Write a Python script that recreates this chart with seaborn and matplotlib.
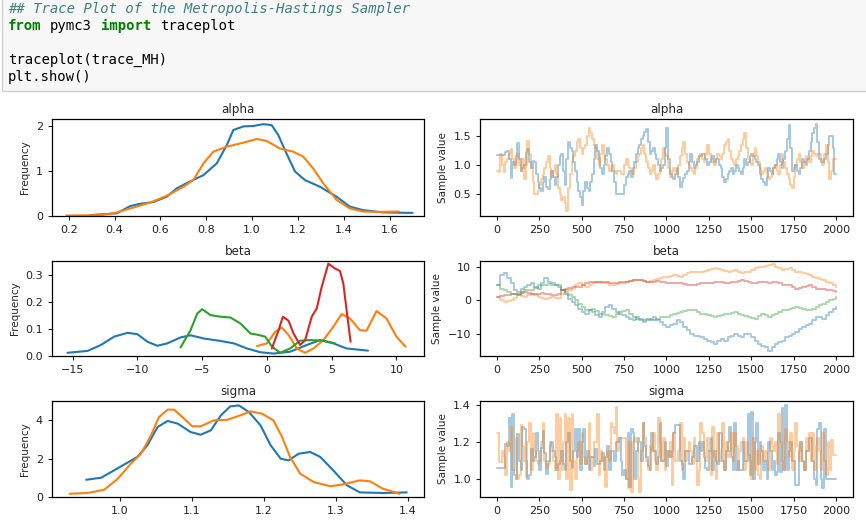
import numpy as np
import pandas as pd
import matplotlib
matplotlib.use("Agg")
import matplotlib.pyplot as plt
from matplotlib.patches import Rectangle
import seaborn as sns

# ---------------- data ----------------
# KDE curves (x, density)
alpha_kde_x_0 = [0.294, 0.41, 0.468, 0.51, 0.57, 0.628, 0.67, 0.715, 0.788, 0.846, 0.89, 0.918, 0.962, 1.005, 1.049, 1.085, 1.114, 1.15, 1.187, 1.23, 1.296, 1.368, 1.426, 1.484, 1.571, 1.673, 1.70]
alpha_kde_y_0 = [0.02, 0.06, 0.22, 0.27, 0.31, 0.43, 0.61, 0.73, 0.91, 1.17, 1.58, 1.91, 1.99, 2.0, 2.04, 2.02, 1.8, 1.39, 0.99, 0.8, 0.65, 0.43, 0.21, 0.13, 0.08, 0.07, 0.07]
alpha_kde_x_1 = [0.19, 0.338, 0.396, 0.483, 0.556, 0.628, 0.70, 0.744, 0.788, 0.831, 0.889, 0.947, 1.02, 1.063, 1.121, 1.179, 1.223, 1.266, 1.31, 1.368, 1.426, 1.484, 1.55, 1.64]
alpha_kde_y_1 = [0.01, 0.02, 0.06, 0.19, 0.30, 0.45, 0.65, 0.80, 1.17, 1.43, 1.54, 1.61, 1.71, 1.67, 1.50, 1.43, 1.32, 1.06, 0.73, 0.36, 0.17, 0.10, 0.09, 0.10]

beta_kde_x_0 = [-15.4, -13.85, -12.82, -11.8, -10.77, -10.0, -9.23, -8.46, -7.69, -6.67, -5.9, -4.87, -3.59, -2.56, -1.54, -0.51, 0.51, 1.79, 3.08, 4.1, 5.13, 6.15, 7.8]
beta_kde_y_0 = [0.012, 0.019, 0.041, 0.072, 0.086, 0.081, 0.053, 0.038, 0.047, 0.069, 0.077, 0.065, 0.056, 0.047, 0.028, 0.014, 0.009, 0.016, 0.041, 0.059, 0.047, 0.028, 0.02]
beta_kde_x_1 = [-0.77, 0.0, 0.64, 1.15, 1.67, 2.31, 2.95, 3.59, 4.36, 5.13, 5.77, 6.41, 7.18, 7.69, 8.46, 9.23, 10.0, 10.7]
beta_kde_y_1 = [0.037, 0.047, 0.09, 0.106, 0.078, 0.028, 0.012, 0.028, 0.059, 0.109, 0.156, 0.140, 0.096, 0.094, 0.167, 0.140, 0.072, 0.035]
beta_kde_x_2 = [-6.67, -5.9, -5.38, -5.0, -4.36, -3.59, -2.82, -2.05, -1.28, -0.64, -0.13, 0.38, 1.03, 1.79, 2.56, 3.33, 4.36, 5.26]
beta_kde_y_2 = [0.032, 0.096, 0.158, 0.174, 0.152, 0.146, 0.143, 0.121, 0.084, 0.078, 0.072, 0.035, 0.012, 0.028, 0.057, 0.059, 0.057, 0.047]
beta_kde_x_3 = [0.38, 0.9, 1.23, 1.67, 2.05, 2.56, 2.95, 3.46, 3.85, 4.23, 4.74, 5.26, 5.64, 5.9, 6.28, 6.46]
beta_kde_y_3 = [0.028, 0.096, 0.146, 0.131, 0.084, 0.041, 0.059, 0.146, 0.177, 0.257, 0.343, 0.325, 0.316, 0.269, 0.121, 0.053]

sigma_kde_x_0 = [0.953, 0.974, 1.0, 1.024, 1.038, 1.052, 1.066, 1.08, 1.098, 1.112, 1.126, 1.14, 1.153, 1.165, 1.179, 1.195, 1.209, 1.223, 1.234, 1.248, 1.264, 1.278, 1.296, 1.315, 1.333, 1.365, 1.398]
sigma_kde_y_0 = [0.90, 1.01, 1.57, 2.09, 2.70, 3.65, 3.97, 3.83, 3.39, 3.25, 3.48, 4.26, 4.73, 4.78, 4.43, 3.74, 2.70, 2.0, 1.91, 2.26, 2.35, 2.09, 1.39, 0.61, 0.24, 0.21, 0.24]
sigma_kde_x_1 = [0.93, 0.955, 0.978, 0.997, 1.015, 1.029, 1.043, 1.054, 1.066, 1.075, 1.089, 1.10, 1.112, 1.13, 1.149, 1.167, 1.181, 1.197, 1.213, 1.225, 1.236, 1.25, 1.269, 1.292, 1.31, 1.333, 1.347, 1.365, 1.388]
sigma_kde_y_1 = [0.17, 0.21, 0.38, 0.96, 1.74, 2.26, 3.22, 4.17, 4.56, 4.56, 4.09, 3.69, 3.69, 4.0, 4.03, 4.26, 4.47, 4.35, 4.0, 3.13, 2.09, 1.22, 0.78, 0.56, 0.66, 0.87, 0.82, 0.43, 0.17]

# traces: alpha & sigma read every 10 draws, beta every 20 draws
alpha_trace_0 = [1.17, 1.17, 1.17, 1.17, 1.17, 1.22, 1.25, 1.1, 0.78, 1.05, 1.0, 1.15, 1.38, 1.1, 0.9, 0.95, 1.0, 1.22, 1.28, 1.05,
                 0.95, 1.07, 1.05, 0.85, 0.7, 0.6, 0.55, 0.7, 0.8, 0.62, 0.58, 0.75, 0.9, 0.8, 0.65, 0.8, 1.0, 1.15, 1.2, 0.9,
                 0.65, 1.1, 1.4, 1.3, 1.25, 1.05, 0.9, 0.7, 0.55, 0.45, 0.3, 0.55, 0.7, 0.6, 0.55, 0.7, 0.85, 1.1, 1.35, 1.25,
                 1.1, 0.95, 0.85, 1.0, 1.15, 1.3, 1.2, 1.05, 0.9, 0.7, 0.5, 0.5, 0.5, 0.5, 0.5, 0.65, 0.8, 0.85, 0.9, 0.8,
                 0.95, 1.05, 1.2, 1.3, 1.35, 1.45, 1.5, 1.58, 1.62, 1.4, 1.2, 1.25, 1.3, 1.2, 1.1, 1.0, 0.9, 0.95, 1.0, 1.3,
                 1.65, 1.1, 0.85, 0.8, 0.75, 0.85, 0.95, 0.8, 0.62, 0.7, 0.78, 0.85, 0.9, 1.05, 1.2, 1.05, 0.95, 1.0, 1.05, 1.15,
                 1.15, 1.2, 1.2, 1.1, 1.0, 1.05, 1.1, 1.15, 1.05, 1.1, 1.1, 1.0, 0.95, 0.8, 0.7, 0.75, 0.85, 0.9, 0.95, 0.85,
                 0.9, 1.0, 0.95, 0.9, 0.85, 0.95, 1.1, 1.0, 1.05, 1.15, 1.2, 1.15, 1.1, 1.05, 1.0, 0.85, 0.75, 0.7, 0.65, 0.8,
                 0.95, 0.9, 0.85, 0.95, 1.0, 1.1, 1.2, 1.05, 0.95, 1.1, 1.25, 1.45, 1.7, 1.3, 0.9, 0.95, 1.0, 0.9, 0.85, 0.95,
                 1.1, 1.05, 1.0, 1.1, 1.25, 1.4, 1.55, 1.65, 1.72, 1.4, 1.1, 1.05, 1.05, 1.1, 1.2, 1.35, 1.5, 1.5, 1.3, 0.85,
                 0.85]
alpha_trace_1 = [0.9, 0.88, 1.2, 1.0, 0.88, 1.05, 1.1, 1.2, 1.28, 1.1, 0.95, 1.05, 1.2, 1.0, 0.9, 1.1, 0.75, 1.0, 1.42, 1.2,
                 0.95, 0.7, 0.5, 0.5, 0.55, 0.65, 0.75, 0.85, 0.95, 1.05, 1.15, 0.95, 0.8, 0.9, 1.0, 0.85, 0.6, 0.5, 0.4, 0.45,
                 0.35, 0.2, 0.6, 0.85, 1.05, 1.15, 1.25, 1.4, 1.45, 1.3, 1.2, 1.3, 1.35, 1.5, 1.65, 1.55, 1.45, 1.35, 1.3, 1.1,
                 1.0, 1.2, 1.35, 1.2, 1.1, 1.0, 0.9, 0.95, 1.0, 0.9, 0.85, 0.9, 0.9, 0.85, 0.85, 1.0, 1.1, 1.0, 0.95, 0.9,
                 0.85, 0.95, 1.05, 1.15, 1.2, 1.3, 1.35, 1.2, 1.05, 0.95, 0.85, 0.9, 1.0, 0.85, 0.75, 0.85, 0.9, 1.1, 1.3, 1.2,
                 1.15, 0.95, 0.8, 0.9, 0.95, 0.9, 0.85, 1.0, 1.15, 1.3, 1.4, 1.2, 1.05, 1.0, 0.95, 0.9, 0.85, 0.95, 1.1, 1.15,
                 1.2, 1.1, 1.05, 1.2, 1.35, 1.2, 1.1, 1.05, 1.0, 1.1, 1.2, 1.15, 1.1, 1.2, 1.35, 1.4, 1.45, 1.25, 1.1, 1.05,
                 1.0, 1.1, 1.15, 1.25, 1.35, 1.45, 1.55, 1.3, 1.1, 1.05, 1.0, 1.15, 1.3, 1.15, 1.05, 0.95, 0.85, 0.9, 0.95, 0.85,
                 0.75, 0.8, 0.85, 0.95, 1.0, 0.9, 0.85, 1.0, 1.2, 1.05, 0.95, 0.85, 0.75, 0.65, 0.6, 0.8, 1.0, 1.1, 1.2, 1.05,
                 0.95, 1.05, 1.15, 1.1, 1.05, 1.15, 1.25, 1.2, 1.15, 1.2, 1.2, 1.1, 1.0, 1.2, 1.35, 1.05, 0.75, 0.9, 1.1, 1.1,
                 1.1]

beta_trace_0 = [4.5, 7.5, 8.0, 6.5, 5.0, 3.0, 2.5, 3.5, 4.0, 4.5, 5.0, 4.0, 3.5, 5.0, 6.5, 5.5, 5.0, 4.5, 4.0, 3.0,
                2.0, 0.5, -0.5, -1.5, -2.5, -3.5, -4.0, -3.0, -3.5, -4.5, -5.0, -3.5, -2.0, -1.5, -2.5, -3.5, -4.0, -4.5, -5.0, -5.5,
                -6.0, -5.0, -5.5, -6.5, -6.0, -5.5, -5.0, -6.0, -6.5, -7.5, -8.0, -7.5, -7.0, -6.0, -6.5, -8.0, -9.0, -10.0, -10.5, -10.5,
                -11.0, -11.5, -12.0, -12.5, -13.0, -12.0, -11.5, -12.0, -11.0, -10.5, -10.0, -10.5, -11.0, -10.0, -10.0, -11.0, -12.0, -13.0, -13.5, -14.0,
                -15.0, -14.0, -13.0, -12.5, -12.0, -11.0, -10.5, -10.0, -9.5, -8.5, -8.0, -7.5, -7.0, -6.0, -5.0, -5.0, -5.5, -4.5, -3.5, -2.5,
                -2.0]
beta_trace_1 = [1.0, 0.0, -0.5, -0.3, 0.0, 0.8, 1.5, 1.2, 1.0, 1.5, 2.0, 1.5, 1.0, 0.8, 0.5, 0.8, 1.0, 0.8, 0.8, 2.0,
                3.0, 3.2, 3.5, 4.5, 5.0, 4.5, 4.0, 4.5, 5.0, 5.5, 5.5, 5.0, 5.0, 4.5, 4.5, 4.8, 5.0, 5.2, 5.5, 5.8,
                6.0, 6.0, 6.0, 5.8, 5.5, 5.8, 6.0, 6.3, 6.5, 6.8, 7.0, 7.3, 7.5, 7.2, 7.0, 7.5, 8.0, 8.3, 8.5, 8.3,
                8.5, 8.8, 9.0, 9.3, 9.5, 9.2, 9.0, 8.7, 8.5, 8.8, 9.0, 8.5, 8.0, 8.3, 8.5, 9.0, 9.5, 9.8, 10.0, 10.3,
                10.5, 10.8, 10.0, 9.5, 9.0, 9.3, 9.5, 9.0, 8.5, 8.3, 8.0, 7.8, 7.5, 7.0, 6.5, 6.3, 6.0, 5.5, 5.0, 4.5,
                4.0]
beta_trace_2 = [4.5, 3.5, 3.0, 2.5, 2.0, 1.8, 1.5, 2.5, 3.0, 3.2, 3.0, 3.8, 4.5, 4.5, 4.5, 4.8, 4.5, 4.5, 4.5, 3.0,
                2.5, 1.5, 1.0, 0.0, -1.0, -2.0, -3.0, -2.8, -2.5, -3.2, -4.0, -4.2, -4.5, -4.8, -5.0, -4.2, -3.5, -3.2, -3.0, -4.0,
                -5.0, -5.5, -6.0, -5.8, -5.5, -5.8, -6.0, -5.5, -5.0, -5.0, -5.0, -4.5, -4.0, -3.8, -3.5, -3.2, -3.0, -3.0, -3.0, -3.5,
                -4.0, -4.2, -4.5, -4.8, -5.0, -4.8, -4.5, -4.2, -4.0, -3.8, -3.5, -4.0, -4.5, -4.8, -5.0, -5.2, -5.5, -4.8, -4.0, -4.5,
                -5.0, -4.5, -4.0, -3.5, -3.0, -2.8, -2.5, -2.2, -2.0, -2.2, -2.5, -2.8, -3.0, -2.5, -2.0, -1.5, -1.0, -0.5, 0.0, 0.5,
                1.0]
beta_trace_3 = [1.0, 1.2, 1.5, 1.7, 1.8, 2.0, 2.0, 2.2, 2.5, 2.3, 2.0, 2.0, 2.0, 2.2, 2.0, 1.8, 1.5, 1.7, 2.0, 3.0,
                3.5, 3.8, 4.0, 4.0, 4.0, 4.5, 5.0, 5.3, 5.5, 5.5, 5.5, 5.3, 5.5, 5.2, 5.0, 5.2, 5.5, 5.3, 5.5, 5.8,
                6.0, 6.0, 6.0, 5.8, 5.5, 5.5, 5.5, 5.7, 5.5, 5.3, 5.0, 5.0, 5.0, 5.2, 5.0, 4.8, 4.5, 4.5, 4.5, 4.8,
                5.0, 5.0, 5.0, 5.2, 5.5, 5.5, 5.5, 5.2, 5.0, 5.3, 5.5, 5.8, 6.0, 5.8, 5.5, 5.2, 5.0, 5.3, 5.5, 5.3,
                5.0, 5.3, 5.5, 5.0, 4.5, 4.5, 4.5, 4.0, 3.5, 3.8, 4.0, 4.3, 4.5, 4.0, 3.5, 3.5, 3.5, 3.2, 3.0, 2.8,
                2.5]

sigma_trace_0 = [1.06, 1.06, 1.06, 1.06, 1.06, 1.19, 1.18, 1.33, 0.96, 1.35, 1.02, 1.0, 1.24, 1.1, 1.05, 1.28, 1.27, 1.1, 1.0, 1.02,
                 1.16, 1.1, 1.12, 1.25, 1.15, 1.05, 1.17, 1.26, 1.14, 1.03, 1.1, 1.18, 1.2, 1.15, 1.12, 1.05, 1.08, 1.1, 1.15, 1.08,
                 1.05, 1.2, 1.25, 1.1, 1.06, 1.15, 1.27, 1.12, 1.27, 1.05, 1.2, 1.27, 1.08, 1.15, 1.05, 1.12, 1.12, 1.07, 1.16, 1.08,
                 1.08, 1.1, 1.14, 1.05, 1.12, 1.18, 1.05, 1.15, 1.15, 1.1, 1.2, 1.2, 1.22, 1.1, 1.02, 1.05, 1.0, 1.25, 0.96, 1.27,
                 1.25, 1.0, 1.15, 1.22, 1.2, 1.1, 1.3, 1.18, 1.12, 1.07, 1.05, 1.25, 1.15, 1.15, 1.08, 1.12, 1.3, 1.1, 1.1, 1.2,
                 1.07, 1.15, 1.12, 1.15, 1.25, 1.29, 1.29, 1.29, 1.1, 1.08, 1.0, 1.15, 1.15, 1.08, 1.08, 1.12, 1.18, 1.18, 1.1, 1.2,
                 1.15, 1.2, 1.12, 1.06, 1.05, 1.15, 1.22, 1.05, 1.15, 1.1, 1.08, 1.25, 1.25, 1.1, 1.05, 1.15, 1.2, 1.28, 1.12, 1.05,
                 1.3, 1.05, 1.1, 1.05, 1.05, 1.2, 1.1, 1.1, 1.35, 1.02, 1.36, 1.0, 1.2, 1.3, 1.08, 1.2, 1.15, 1.05, 1.1, 1.0,
                 1.2, 1.15, 1.05, 1.1, 1.02, 1.04, 1.25, 1.04, 1.38, 1.05, 1.4, 1.05, 1.15, 1.2, 1.1, 1.1, 0.97, 0.97, 1.15, 1.2,
                 1.1, 1.05, 1.15, 1.15, 1.22, 1.22, 1.1, 1.0, 0.97, 1.27, 1.3, 1.0, 0.95, 1.27, 1.0, 1.0, 1.0, 1.0, 1.0, 1.0,
                 1.0]
sigma_trace_1 = [1.25, 1.1, 1.09, 1.15, 1.12, 1.02, 1.2, 1.15, 1.28, 1.05, 1.05, 1.22, 1.0, 1.02, 1.29, 1.18, 1.1, 1.01, 1.2, 1.3,
                 1.05, 1.25, 1.15, 1.1, 1.08, 1.1, 1.2, 1.3, 1.1, 1.06, 1.08, 1.2, 1.15, 1.1, 1.05, 1.35, 1.0, 1.33, 1.05, 1.2,
                 1.35, 1.0, 1.33, 0.94, 1.35, 1.1, 1.0, 1.15, 1.2, 1.08, 1.25, 1.12, 1.08, 1.12, 1.3, 1.05, 1.12, 1.2, 1.2, 1.35,
                 1.02, 1.15, 1.1, 1.12, 0.96, 1.15, 1.1, 1.3, 1.28, 1.25, 1.39, 1.15, 1.22, 1.22, 1.22, 1.22, 1.0, 0.95, 1.2, 0.93,
                 1.2, 1.22, 1.2, 1.0, 0.93, 1.15, 1.3, 1.22, 1.1, 1.05, 1.18, 1.15, 1.25, 1.1, 1.05, 1.33, 1.2, 1.1, 1.22, 1.05,
                 1.15, 1.12, 1.2, 0.97, 1.25, 1.1, 1.1, 1.15, 1.3, 1.05, 1.22, 1.1, 1.15, 1.2, 1.15, 1.08, 1.22, 1.1, 0.97, 1.05,
                 1.3, 1.25, 1.15, 1.1, 1.22, 1.15, 1.02, 1.28, 1.12, 1.0, 1.25, 1.1, 1.15, 1.3, 1.05, 1.2, 1.12, 1.15, 1.25, 1.1,
                 1.25, 1.18, 1.05, 1.15, 1.2, 1.22, 1.05, 1.2, 1.13, 1.1, 1.0, 1.22, 1.05, 1.15, 1.02, 1.0, 1.18, 1.1, 1.15, 1.1,
                 1.05, 1.22, 1.18, 1.15, 1.2, 1.08, 1.35, 1.2, 1.1, 1.05, 1.27, 1.2, 1.12, 1.25, 1.05, 1.15, 1.3, 1.18, 1.1, 1.2,
                 1.1, 1.05, 1.22, 1.15, 1.25, 1.1, 1.25, 1.05, 1.18, 1.22, 1.15, 1.05, 1.25, 1.1, 1.02, 1.2, 1.05, 1.21, 1.13, 1.13,
                 1.13]

n_draws = 2000
var_names = ["alpha", "beta", "sigma"]
colors = ["#1f77b4", "#ff7f0e", "#2ca02c", "#d62728"]

kde_data = {
    "alpha": [(alpha_kde_x_0, alpha_kde_y_0), (alpha_kde_x_1, alpha_kde_y_1)],
    "beta": [(beta_kde_x_0, beta_kde_y_0), (beta_kde_x_1, beta_kde_y_1),
             (beta_kde_x_2, beta_kde_y_2), (beta_kde_x_3, beta_kde_y_3)],
    "sigma": [(sigma_kde_x_0, sigma_kde_y_0), (sigma_kde_x_1, sigma_kde_y_1)],
}
trace_data = {
    "alpha": [alpha_trace_0, alpha_trace_1],
    "beta": [beta_trace_0, beta_trace_1, beta_trace_3, beta_trace_2],
    "sigma": [sigma_trace_0, sigma_trace_1],
}
trace_colors = {
    "alpha": [colors[0], colors[1]],
    "beta": [colors[0], colors[1], colors[3], colors[2]],
    "sigma": [colors[0], colors[1]],
}

# ---------------- style ----------------
sns.set_theme(style="ticks")
plt.rcParams.update({
    "font.family": ["DejaVu Sans"],
    "axes.edgecolor": "black",
    "axes.linewidth": 0.9,
    "xtick.color": "#222222",
    "ytick.color": "#222222",
    "xtick.labelsize": 8,
    "ytick.labelsize": 8,
    "axes.labelsize": 7.5,
    "axes.titlesize": 8.6,
    "xtick.major.size": 3,
    "ytick.major.size": 3,
    "xtick.major.width": 0.8,
    "ytick.major.width": 0.8,
})

W, H = 866, 524
fig = plt.figure(figsize=(W / 100, H / 100), dpi=100)
fig.patch.set_facecolor("white")

# ---------- code cell ----------
cell = Rectangle((2 / W, 1 - 91 / H), 1.0, 91 / H + 0.02, transform=fig.transFigure,
                 facecolor="#f7f7f7", edgecolor="#cfcfcf", linewidth=1.0, zorder=0)
fig.patches.append(cell)

fs_code = 10.1
cw = 0.602 * fs_code * 100 / 72  # char advance in px
x0_code = 8


def code_piece(line_y, col, txt, color="black", weight="normal", style="normal"):
    fig.text((x0_code + col * cw) / W, 1 - line_y / H, txt, family="DejaVu Sans Mono",
             fontsize=fs_code, color=color, weight=weight, style=style, va="center", ha="left")


code_piece(9, 0, "## Trace Plot of the Metropolis-Hastings Sampler", color="#408080", style="italic")
code_piece(26, 0, "from", color="#008000", weight="bold")
code_piece(26, 5, "pymc3", color="#000000")
code_piece(26, 11, "import", color="#008000", weight="bold")
code_piece(26, 18, "traceplot", color="#000000")
code_piece(60, 0, "traceplot(trace_MH)", color="#000000")
code_piece(77, 0, "plt.show()", color="#000000")

# ---------- axes ----------
left_x, left_w = 52 / W, 372 / W
right_x, right_w = 480 / W, 373 / W
rows = [(119, 216), (261, 356), (401, 497)]

kde_xlim = {"alpha": (0.127, 1.75), "beta": (-16.6, 12.13), "sigma": (0.9055, 1.422)}
kde_ylim = {"alpha": (0, 2.155), "beta": (0, 0.353), "sigma": (0, 5.01)}
kde_xticks = {"alpha": np.arange(0.2, 1.61, 0.2), "beta": np.arange(-15, 11, 5), "sigma": np.arange(1.0, 1.41, 0.1)}
kde_yticks = {"alpha": [0, 1, 2], "beta": [0.0, 0.1, 0.2, 0.3], "sigma": [0, 2, 4]}
tr_ylim = {"alpha": (0.116, 1.80), "beta": (-16.6, 11.7), "sigma": (0.904, 1.42)}
tr_yticks = {"alpha": [0.5, 1.0, 1.5], "beta": [-10, 0, 10], "sigma": [1.0, 1.2, 1.4]}

for (top, bot), name in zip(rows, var_names):
    b = 1 - bot / H
    h = (bot - top) / H
    axk = fig.add_axes([left_x, b, left_w, h])
    axt = fig.add_axes([right_x, b, right_w, h])

    for i, (xs, ys) in enumerate(kde_data[name]):
        df = pd.DataFrame({"x": xs, "y": ys})
        sns.lineplot(data=df, x="x", y="y", ax=axk, color=colors[i], sort=False,
                     estimator=None, linewidth=1.5)
    axk.set_xlim(*kde_xlim[name])
    axk.set_ylim(*kde_ylim[name])
    axk.set_xticks(kde_xticks[name])
    axk.set_yticks(kde_yticks[name])
    if name == "alpha":
        axk.set_xticklabels([f"{v:.1f}" for v in kde_xticks[name]])
    axk.set_title(name, pad=4)
    axk.set_ylabel("Frequency")
    axk.set_xlabel("")

    for vals, col in zip(trace_data[name], trace_colors[name]):
        df = pd.DataFrame({"draw": np.linspace(0, n_draws, len(vals)), "value": vals})
        sns.lineplot(data=df, x="draw", y="value", ax=axt, color=col, alpha=0.4,
                     estimator=None, sort=False, drawstyle="steps-post", linewidth=1.4)
    axt.set_xlim(-100, 2100)
    axt.set_ylim(*tr_ylim[name])
    axt.set_xticks(np.arange(0, 2001, 250))
    axt.set_yticks(tr_yticks[name])
    axt.set_title(name, pad=4)
    axt.set_ylabel("Sample value")
    axt.set_xlabel("")

    for ax in (axk, axt):
        for s in ax.spines.values():
            s.set_visible(True)
            s.set_color("black")

fig.savefig("out.png", dpi=100, facecolor="white")
